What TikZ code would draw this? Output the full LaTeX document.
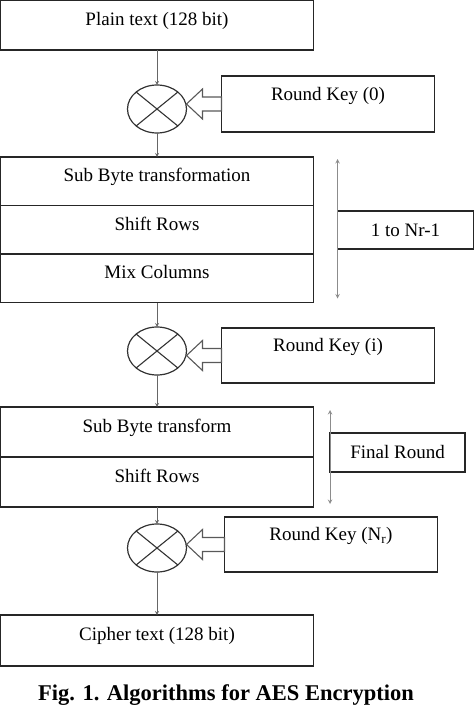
\documentclass[tikz,border=0pt]{standalone}
\usepackage{fontspec}
\setmainfont{Liberation Serif}
\usetikzlibrary{positioning,shapes.geometric}

% open arrow from a round key into the xor: tip point, shaft length
\newcommand{\keyarrow}[2]{\draw [hollow] (#1) -- ++(16,-15) -- ++(0,8) -- ++(#2,0) -- ++(0,14) -- ++(-#2,0) -- ++(0,8) -- cycle;}

\begin{document}
\begin{tikzpicture}[x=1pt, y=-1pt, node distance=1cm, font=\fontsize{19}{23}\selectfont]
\tikzstyle{block} = [rectangle, draw=black!85, line width=1.5pt, minimum width=313pt, minimum height=50pt, text height=13.5pt, text depth=12.9pt, inner sep=0pt, outer sep=0pt]
\tikzstyle{keybox} = [block, minimum width=213pt, minimum height=56pt, text depth=20.9pt]
\tikzstyle{tag} = [block, minimum width=136pt, minimum height=38pt, text depth=0.9pt]
\tikzstyle{xor} = [ellipse, draw=black!80, line width=1.2pt, minimum width=59pt, minimum height=48pt, inner sep=0pt, outer sep=0pt]
\tikzstyle{hollow} = [draw=black!65, line width=1.1pt, fill=white, line join=miter]
\tikzstyle{arrow} = [line width=0.8pt, draw=black!60, ->, >=stealth]
\tikzstyle{span} = [line width=1pt, draw=black!45, <->, >=stealth]

\useasboundingbox (0,0) rectangle (474,706);

% main column
\node (plain) [block] at (157,25) {Plain text (128 bit)};
\node (xor1) [xor, below=35pt of plain] {};
\node (sub1) [block, minimum height=48.5pt, below=24pt of xor1] {Sub Byte transformation};
\node (shift1) [block, minimum height=48.5pt, below=0pt of sub1] {Shift Rows};
\node (mix1) [block, minimum height=48.5pt, below=0pt of shift1] {Mix Columns};
\node (xor2) [xor, below=24.5pt of mix1] {};
\node (sub2) [block, below=32pt of xor2] {Sub Byte transform};
\node (shift2) [block, below=0pt of sub2] {Shift Rows};
\node (xor3) [xor, below=17pt of shift2] {};
\node (cipher) [block, minimum height=51pt, below=43pt of xor3] {Cipher text (128 bit)};

% round keys and round counts
\node (key0) [keybox, right=35pt of xor1, yshift=5pt] {Round Key (0)};
\node (key1) [keybox, minimum height=55pt, right=35pt of xor2, yshift=-4.5pt] {Round Key (i)};
\node (key2) [keybox, minimum height=55pt, right=38pt of xor3, yshift=3.5pt] {Round Key (N\textsubscript{r})};
\node (rng1) [tag, right=24pt of shift1] {1 to Nr-1};
\node (fin) [tag, minimum width=135pt, minimum height=39pt, right=16.5pt of sub2.south east, yshift=4.5pt] {Final Round};

% xor crosses
\foreach \n in {xor1,xor2,xor3}
  \draw [draw=black!80, line width=1.1pt] (\n.north west) -- (\n.south east) (\n.north east) -- (\n.south west);

% key inputs
\coordinate (t0) at (xor1.east |- key0.west);
\coordinate (t1) at (xor2.east |- key1.west);
\coordinate (t2) at (xor3.east |- key2.west);
\keyarrow{t0}{19}
\keyarrow{t1}{19}
\keyarrow{t2}{22}

\draw [arrow] (plain) -- (xor1);
\draw [arrow] (xor1) -- (sub1);
\draw [arrow] (mix1) -- (xor2);
\draw [arrow] (xor2) -- (sub2);
\draw [arrow] (shift2) -- (xor3);
\draw [arrow] (xor3) -- (cipher);

\draw [span, shorten <=2pt, shorten >=4pt] (rng1.west |- sub1.north) -- (rng1.west |- mix1.south);
\draw [span, shorten <=3pt, shorten >=3pt] (fin.west |- sub2.north) -- (fin.west |- shift2.south);

\node (caption) at (226,695) {\fontsize{22.5}{27}\selectfont\bfseries Fig. 1. Algorithms for AES Encryption};
\end{tikzpicture}
\end{document}
